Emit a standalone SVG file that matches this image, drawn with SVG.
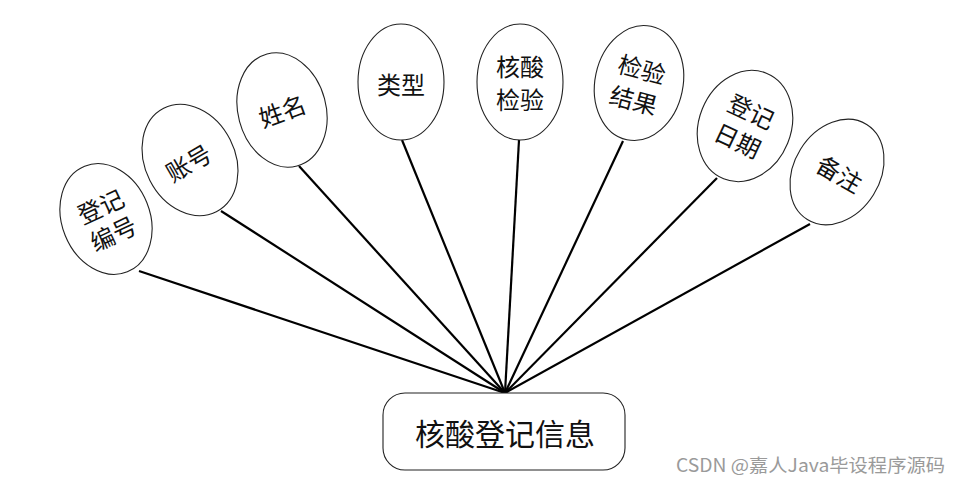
<svg xmlns="http://www.w3.org/2000/svg" width="960" height="485" viewBox="0 0 960 485">
<style>
.e{fill:#fff;stroke:#222;stroke-width:1.1}
.t{font-family:"Noto Sans CJK SC","Noto Sans",sans-serif;font-size:24px;fill:#111;text-anchor:middle;dominant-baseline:central}
.c{stroke:#000;stroke-width:2.2;fill:none}
</style>
<rect width="960" height="485" fill="#fff"/>
<g id="connectors">
<line class="c" x1="139" y1="271" x2="505" y2="393"/>
<line class="c" x1="221" y1="211" x2="505" y2="393"/>
<line class="c" x1="299" y1="166" x2="505" y2="393"/>
<line class="c" x1="402" y1="140" x2="505" y2="393"/>
<line class="c" x1="519" y1="140" x2="505" y2="393"/>
<line class="c" x1="623" y1="141" x2="505" y2="393"/>
<line class="c" x1="717" y1="178" x2="505" y2="393"/>
<line class="c" x1="810" y1="224" x2="505" y2="393"/>
</g>
<g id="n1">
<ellipse class="e" cx="0" cy="0" rx="44" ry="57" transform="translate(106 219) rotate(-22)"/>
<g transform="translate(106.5 219) rotate(-25)"><text class="t" x="0" y="-15">登记</text><text class="t" x="0" y="15">编号</text></g>
</g>
<g id="n2">
<ellipse class="e" cx="0" cy="0" rx="45" ry="58" transform="translate(190 160) rotate(-27)"/>
<text class="t" transform="translate(188 162) rotate(-30)">账号</text>
</g>
<g id="n3">
<ellipse class="e" cx="0" cy="0" rx="44" ry="58" transform="translate(282 110) rotate(-15)"/>
<text class="t" transform="translate(282 110) rotate(-20)">姓名</text>
</g>
<g id="n4">
<ellipse class="e" cx="401" cy="82" rx="43" ry="58"/>
<text class="t" x="401" y="83">类型</text>
</g>
<g id="n5">
<ellipse class="e" cx="520" cy="82" rx="43" ry="58"/>
<text class="t" x="520" y="65">核酸</text>
<text class="t" x="520" y="98">检验</text>
</g>
<g id="n6">
<ellipse class="e" cx="0" cy="0" rx="44" ry="58" transform="translate(639 83) rotate(12)"/>
<g transform="translate(638 83.5) rotate(15)"><text class="t" x="0" y="-16">检验</text><text class="t" x="0" y="16">结果</text></g>
</g>
<g id="n7">
<ellipse class="e" cx="0" cy="0" rx="46" ry="57" transform="translate(745 126) rotate(22)"/>
<g transform="translate(745 125) rotate(25)"><text class="t" x="0" y="-16">登记</text><text class="t" x="0" y="16">日期</text></g>
</g>
<g id="n8">
<ellipse class="e" cx="0" cy="0" rx="43" ry="56" transform="translate(837 172) rotate(32)"/>
<text class="t" transform="translate(840 173) rotate(30)">备注</text>
</g>
<g id="main">
<rect x="383" y="393" width="242" height="77" rx="22" ry="22" fill="#fff" stroke="#222" stroke-width="1.1"/>
<text class="t" x="505" y="432" style="font-size:30px">核酸登记信息</text>
</g>
<text x="676" y="472" textLength="269" lengthAdjust="spacingAndGlyphs" style="font-family:'Noto Sans CJK SC','Noto Sans',sans-serif;font-size:18px;fill:#9a9a9a">CSDN @嘉人Java毕设程序源码</text>
</svg>
